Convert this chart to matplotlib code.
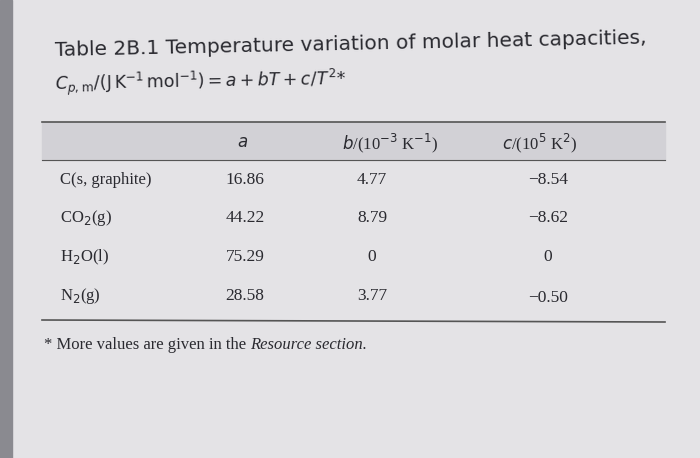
import matplotlib
matplotlib.use("Agg")
import matplotlib.pyplot as plt

species = [r"C(s, graphite)", r"CO$_2$(g)", r"H$_2$O(l)", r"N$_2$(g)"]
a_vals = ["16.86", "44.22", "75.29", "28.58"]
b_vals = ["4.77", "8.79", "0", "3.77"]
c_vals = ["\u22128.54", "\u22128.62", "0", "\u22120.50"]
headers = [r"$a$", r"$b$/(10$^{-3}$ K$^{-1}$)", r"$c$/(10$^{5}$ K$^{2}$)"]

fig = plt.figure(figsize=(7, 4.58), dpi=100)
fig.patch.set_facecolor("#e4e3e6")
ax = fig.add_axes([0, 0, 1, 1])
ax.set_xlim(0, 700); ax.set_ylim(458, 0); ax.axis("off")
ax.axvspan(0, 12, color="#8a8a90")

tc = "#2a2a30"
ax.text(55, 60, "Table 2B.1 Temperature variation of molar heat capacities,",
        fontsize=14.5, color=tc, family="DejaVu Sans", rotation=1.2, va="bottom")
ax.text(55, 82, r"$C_{p,\mathrm{m}}/(\mathrm{J\,K^{-1}\,mol^{-1}}) = a + bT + c/T^{2}$*",
        fontsize=12.5, color=tc, va="center", rotation=1.0)

ax.fill_between([42, 665], 122, 160, color="#d2d1d6")
ax.plot([42, 665], [122, 122], color="#555", lw=1.2)
ax.plot([42, 665], [160, 160], color="#555", lw=0.8)
ax.plot([42, 665], [320, 322], color="#555", lw=1.2)

serif = "Liberation Serif"
col_x = [243, 390, 540]
for x, h in zip(col_x, headers):
    ax.text(x, 143, h, fontsize=12, color=tc, ha="center", va="center", family=serif)
row_y = [180, 218, 257, 296]
for i, y in enumerate(row_y):
    ax.text(60, y, species[i], fontsize=12, color=tc, va="center", family=serif)
    ax.text(245, y, a_vals[i], fontsize=12.5, color=tc, ha="center", va="center", family=serif)
    ax.text(372, y, b_vals[i], fontsize=12.5, color=tc, ha="center", va="center", family=serif)
    ax.text(548, y + (2 if i == 3 else 0), c_vals[i], fontsize=12.5, color=tc, ha="center", va="center", family=serif)

t1 = ax.text(44, 345, "* More values are given in the ", fontsize=12, color=tc, va="center", family=serif)
ax.annotate("Resource section.", xycoords=t1, xy=(1, 0.5), va="center",
            fontsize=12, color=tc, family=serif, style="italic")

fig.savefig("out.png", dpi=100, facecolor=fig.get_facecolor())
